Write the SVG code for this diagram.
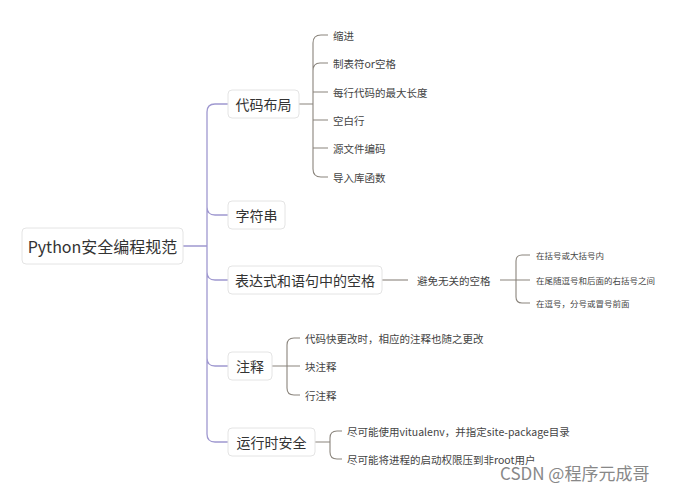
<svg xmlns="http://www.w3.org/2000/svg" width="686" height="490" viewBox="0 0 686 490">
<style>
text{font-family:"Noto Sans CJK SC","Liberation Sans",sans-serif;fill:#333;dominant-baseline:central}
.box{fill:#fff;stroke:#e4e4e4;stroke-width:1}
.t1{font-size:14px}
.t2{font-size:10.5px;fill:#444}
.t3{font-size:8.5px;fill:#444}
.p{fill:none;stroke:#9f98d0;stroke-width:1.3}
.g{fill:none;stroke:#8a847c;stroke-width:1.1}
</style>
<rect width="686" height="490" fill="#fff"/>
<g id="connectors">
<path class="p" d="M183 246H207M207 112V434M207 112Q207 104 215 104H228M207 207Q207 215 215 215H228M207 272Q207 280 215 280H228M207 358Q207 366 215 366H228M207 434Q207 442 215 442H228"/>
<path class="g" d="M299 104H313M313 43V169M313 43Q313 35 321 35H328M313 71Q313 63 320 63H328M313 92H328M313 120H328M313 148H328M313 169Q313 177 321 177H328"/>
<path class="g" d="M382 280H408"/>
<path class="g" d="M500 280H516M516 261V297M516 261Q516 255 522 255H530M516 280H530M516 297Q516 303 522 303H530"/>
<path class="g" d="M272 366H287M287 345V388M287 345Q287 338 294 338H300M287 366H300M287 388Q287 395 294 395H300"/>
<path class="g" d="M315 442H330M330 438V452M330 438Q330 431 337 431H342M330 452Q330 459 337 459H342"/>
</g>
<g id="root"><rect class="box" x="22" y="228" width="161" height="36" rx="4"/><text x="102.5" y="246" text-anchor="middle" style="font-size:16px">Python安全编程规范</text></g>
<g id="n1"><rect class="box" x="228" y="90" width="71" height="28" rx="4"/><text class="t1" x="263.5" y="104" text-anchor="middle">代码布局</text></g>
<g id="n2"><rect class="box" x="228" y="201" width="57" height="28" rx="4"/><text class="t1" x="256.5" y="215" text-anchor="middle">字符串</text></g>
<g id="n3"><rect class="box" x="228" y="266" width="154" height="28" rx="4"/><text class="t1" x="305" y="280" text-anchor="middle">表达式和语句中的空格</text></g>
<g id="n4"><rect class="box" x="228" y="352" width="44" height="28" rx="4"/><text class="t1" x="250" y="366" text-anchor="middle">注释</text></g>
<g id="n5"><rect class="box" x="228" y="428" width="87" height="28" rx="4"/><text class="t1" x="271.5" y="442" text-anchor="middle">运行时安全</text></g>
<g id="leaves1">
<text class="t2" x="333" y="35">缩进</text>
<text class="t2" x="333" y="63">制表符or空格</text>
<text class="t2" x="333" y="92">每行代码的最大长度</text>
<text class="t2" x="333" y="120">空白行</text>
<text class="t2" x="333" y="148">源文件编码</text>
<text class="t2" x="333" y="177">导入库函数</text>
</g>
<g id="n3a"><text class="t2" x="417" y="280">避免无关的空格</text></g>
<g id="leaves3">
<text class="t3" x="536" y="255">在括号或大括号内</text>
<text class="t3" x="536" y="280">在尾随逗号和后面的右括号之间</text>
<text class="t3" x="536" y="303">在逗号，分号或冒号前面</text>
</g>
<g id="leaves4">
<text class="t2" x="305" y="338">代码快更改时，相应的注释也随之更改</text>
<text class="t2" x="305" y="366">块注释</text>
<text class="t2" x="305" y="395">行注释</text>
</g>
<g id="leaves5">
<text class="t2" x="347" y="431">尽可能使用vitualenv，并指定site-package目录</text>
<text class="t2" x="347" y="459">尽可能将进程的启动权限压到非root用户</text>
</g>
<text x="500" y="472" style="font-size:17px;fill:#888">CSDN @程序元成哥</text>
</svg>
